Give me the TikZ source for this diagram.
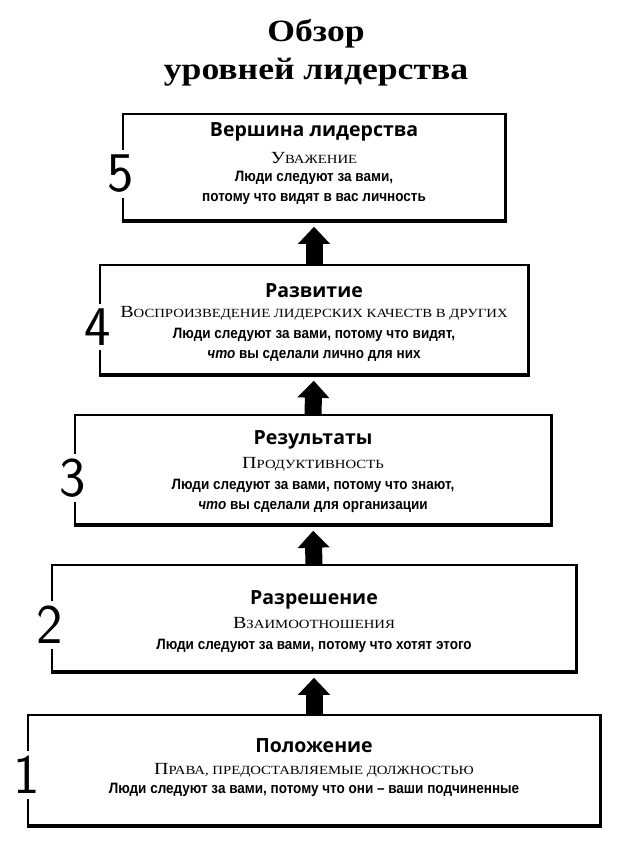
\documentclass[tikz,border=0pt]{standalone}
\usepackage{fontspec}
\usetikzlibrary{arrows.meta}
\setmainfont{Liberation Serif}
\newfontfamily\titlefont[FakeStretch=1.15]{Liberation Serif}
\newfontfamily\subfont[FakeStretch=1.18]{Liberation Serif}
\newfontfamily\headfont{Open Sans}
\newfontfamily\bodyfont[FakeStretch=0.9]{Liberation Sans}
\newfontfamily\numfont{Latin Modern Sans}
\newcommand{\fsc}[2]{{\fontsize{17}{20}\selectfont #1}{\fontsize{12.5}{15}\selectfont #2}}
\tikzset{
  lvlbox/.style={draw, line width=1.5pt, fill=white, inner sep=0pt},
  num/.style={fill=white, inner xsep=1pt, inner ysep=5pt, font=\numfont\fontsize{56}{56}\selectfont},
  head/.style={font=\headfont\bfseries\fontsize{19.5}{22}\selectfont, inner sep=0pt},
  sub/.style={font=\subfont, inner sep=0pt},
  body/.style={font=\bodyfont\bfseries\fontsize{15}{18}\selectfont, inner sep=0pt},
  ttl/.style={font=\titlefont\bfseries\fontsize{31}{36}\selectfont, inner sep=0pt},
  uparrow/.style={line width=17pt, -{Triangle[width=31pt,length=17pt]}, shorten >=6pt},
}
\begin{document}
\begin{tikzpicture}[x=1pt,y=-1pt]
\useasboundingbox[fill=white] (0,0) rectangle (621,846);
% title
\node[ttl] (t1) at (316,34) {Обзор};
\node[ttl] (t2) at (316,72) {уровней лидерства};
% boxes
\node[lvlbox, minimum width=382pt, minimum height=106pt] (b5) at (314,167) {};
\node[lvlbox, minimum width=428pt, minimum height=109pt] (b4) at (314,319.5) {};
\node[lvlbox, minimum width=476pt, minimum height=109pt] (b3) at (313,469.5) {};
\node[lvlbox, minimum width=524pt, minimum height=106pt] (b2) at (314,618) {};
\node[lvlbox, minimum width=572pt, minimum height=110pt] (b1) at (314,770) {};
\foreach \b in {b1,b2,b3,b4,b5}{
  \draw[line width=4pt] ([xshift=-0.75pt]\b.south west) -- ([xshift=1.25pt]\b.south east);
  \draw[line width=2.5pt] (\b.south east) -- (\b.north east);
}
% arrows
\draw[uparrow] (b1.north) -- (b2.south);
\draw[uparrow] (b2.north) -- (b3.south);
\draw[uparrow] (b3.north) -- (b4.south);
\draw[uparrow] (b4.north) -- (b5.south);
% numbers
\node[num] (n5) at ([xshift=-2pt]b5.west |- 0,174) {5};
\node[num] (n4) at ([xshift=-2pt]b4.west |- 0,327) {4};
\node[num] (n3) at ([xshift=-2pt]b3.west |- 0,478) {3};
\node[num] (n2) at ([xshift=-2pt]b2.west |- 0,625) {2};
\node[num] (n1) at ([xshift=-1pt]b1.west |- 0,775) {1};
% level 5
\node[head] (h5) at (314,132) {Вершина лидерства};
\node[sub] (s5) at (314,158) {\fsc{У}{ВАЖЕНИЕ}};
\node[body] (l5a) at (314,178) {Люди следуют за вами,};
\node[body] (l5b) at (314,199) {потому что видят в вас личность};
% level 4
\node[head] (h4) at (314,291) {Развитие};
\node[sub] (s4) at (314,313) {\fsc{В}{ОСПРОИЗВЕДЕНИЕ ЛИДЕРСКИХ КАЧЕСТВ В ДРУГИХ}};
\node[body] (l4a) at (314,335) {Люди следуют за вами, потому что видят,};
\node[body] (l4b) at (314,356) {\textit{что} вы сделали лично для них};
% level 3
\node[head] (h3) at (313,440) {Результаты};
\node[sub] (s3) at (313,464) {\fsc{П}{РОДУКТИВНОСТЬ}};
\node[body] (l3a) at (313,486) {Люди следуют за вами, потому что знают,};
\node[body] (l3b) at (313,507) {\textit{что} вы сделали для организации};
% level 2
\node[head] (h2) at (314,600) {Разрешение};
\node[sub] (s2) at (314,623) {\fsc{В}{ЗАИМООТНОШЕНИЯ}};
\node[body] (l2a) at (314,646) {Люди следуют за вами, потому что хотят этого};
% level 1
\node[head] (h1) at (314,746) {Положение};
\node[sub] (s1) at (314,770) {\fsc{П}{РАВА, ПРЕДОСТАВЛЯЕМЫЕ ДОЛЖНОСТЬЮ}};
\node[body] (l1a) at (314,790) {Люди следуют за вами, потому что они – ваши подчиненные};
\end{tikzpicture}
\end{document}
